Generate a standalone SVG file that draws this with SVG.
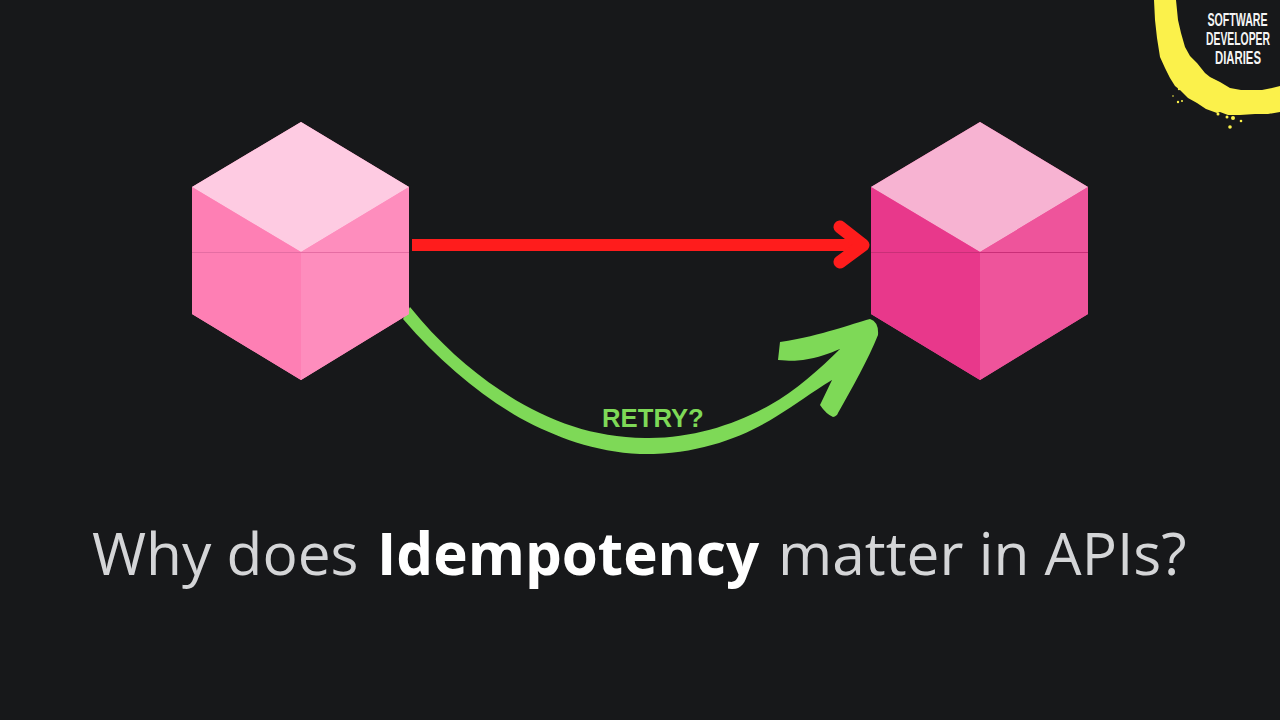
<svg xmlns="http://www.w3.org/2000/svg" width="1280" height="720" viewBox="0 0 1280 720">
<style>
.seam{stroke-width:1;fill:none}
.title{font-family:"Open Sans",sans-serif;font-size:58.600px;font-weight:400;fill:#d4d5d7}
.title .b{font-size:58.300px;font-weight:700;fill:#ffffff}
.logo{font-family:"Liberation Sans",sans-serif;font-size:19px;font-weight:700;fill:#f4f4f4;text-anchor:middle}
.green{fill:#7ed957}
</style>
<rect width="1280" height="720" fill="#17181a"/>
<g id="connectors">
<path d="M412,245H862" fill="none" stroke="#ff1c1c" stroke-width="12"/>
<path d="M840,227L863,245L840,262" fill="none" stroke="#ff1c1c" stroke-width="13" stroke-linecap="round" stroke-linejoin="round"/>
<path class="green" d="M410,307C438,342 470,370 500,390C545,420 590,437 645,438C690,439 735,425 770,405C795,391 820,369 840,349C830,353 818,358 803,360C795,361 790,361 778,360L780,342C825,335 850,324 870,319Q879,322 878,335C868,360 852,388 838,413Q837,416 833,417Q826,414 820,405L832,380C812,392 795,405 777,416C745,436 700,455 640,454C595,452 555,437 520,418C480,395 440,362 403,319Z"/>
</g>
<g id="cube-left">
<polygon points="301,122 409,187 409,314 301,380 192,314 192,187" fill="#fe8dbd"/>
<polygon points="301,122 409,187 301,252 192,187" fill="#fecbe2"/>
<polygon points="192,187 301,252 301,380 192,314" fill="#fe7fb4"/>
<polygon points="409,187 301,252 301,380 409,314" fill="#fe8dbd"/>
<line class="seam" x1="192" y1="252.500" x2="409" y2="252.500" stroke="#e56da3"/>
</g>
<g id="cube-right">
<polygon points="980,122 1088,187 1088,314 980,380 871,314 871,187" fill="#ee549b"/>
<polygon points="980,122 1088,187 980,252 871,187" fill="#f7b3d2"/>
<polygon points="871,187 980,252 980,380 871,314" fill="#e8388b"/>
<polygon points="1088,187 980,252 980,380 1088,314" fill="#ee549b"/>
<line class="seam" x1="871" y1="252.500" x2="1088" y2="252.500" stroke="#c92f78"/>
</g>
<g id="label-retry">
<text x="602" y="427" font-family="Liberation Sans, sans-serif" font-size="25.700" font-weight="700" fill="#7ed957">RETRY?</text>
</g>
<g id="title">
<text class="title" y="575"><tspan x="92">Why does </tspan><tspan class="b" x="377">Idempotency </tspan><tspan x="778">matter in APIs?</tspan></text>
</g>
<g id="logo">
<path d="M1154,0L1155,20L1157,38L1160,57L1165,68L1170,78L1175,86L1180,90L1188,98L1197,103L1206,109L1217,113L1220,112L1228,115L1240,115L1255,114L1268,114L1280,112V86L1272,88L1262,90L1253,90L1241,90L1230,88L1220,82L1210,77L1205,73L1197,63L1190,56L1185,47L1181,33L1178,20L1176,0Z" fill="#fbf14b"/>
<g fill="#fbf14b"><circle cx="1230" cy="127" r="1.800"/><circle cx="1233" cy="118" r="2"/><circle cx="1241" cy="121" r="1.300"/><circle cx="1227" cy="117" r="1.500"/><circle cx="1218" cy="114" r="1.500"/><circle cx="1179" cy="89" r="1.200"/><circle cx="1178" cy="102" r="1.200"/><circle cx="1182" cy="101" r="1"/><circle cx="1173" cy="96" r="0.800"/></g>
<text class="logo" transform="translate(1237.500,26) scale(0.56,1)">SOFTWARE</text>
<text class="logo" transform="translate(1238,45) scale(0.547,1)">DEVELOPER</text>
<text class="logo" transform="translate(1238,64) scale(0.597,1)">DIARIES</text>
</g>
</svg>
